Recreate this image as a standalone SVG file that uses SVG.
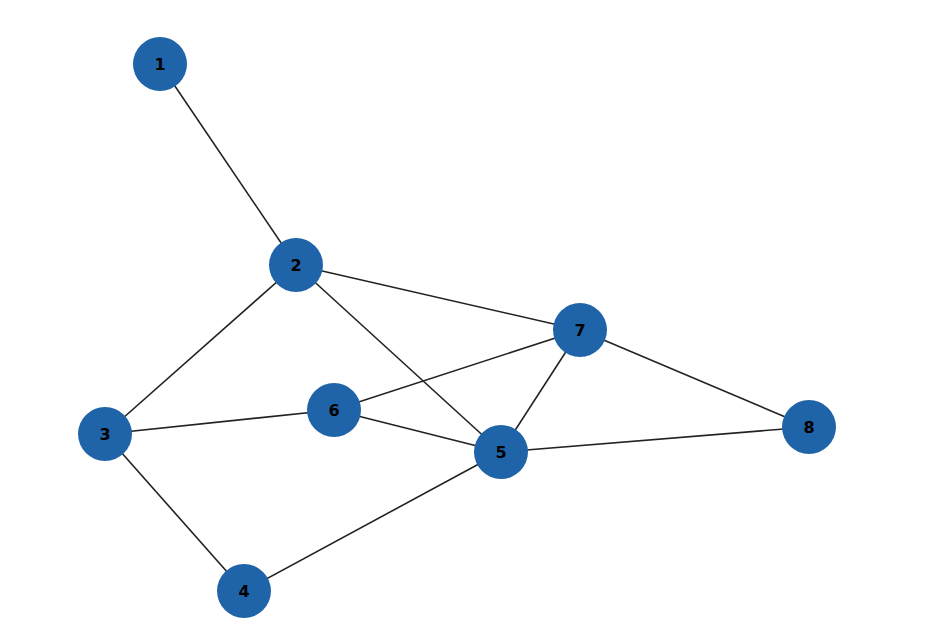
<svg xmlns="http://www.w3.org/2000/svg" width="936" height="644" viewBox="0 0 936 644">
<style>
.n{fill:#1f63a8}
.t{font-family:"DejaVu Sans",sans-serif;font-weight:bold;font-size:16px;fill:#000;text-anchor:middle;dominant-baseline:central}
#edges line{stroke:#222;stroke-width:1.6}
</style>
<rect width="936" height="644" fill="#fff"/>
<g id="edges">
<line x1="160" y1="64" x2="296" y2="265"/>
<line x1="296" y1="265" x2="580" y2="330"/>
<line x1="296" y1="265" x2="105" y2="434"/>
<line x1="296" y1="265" x2="501" y2="452"/>
<line x1="105" y1="434" x2="334" y2="410"/>
<line x1="105" y1="434" x2="244" y2="591"/>
<line x1="244" y1="591" x2="501" y2="452"/>
<line x1="334" y1="410" x2="580" y2="330"/>
<line x1="334" y1="410" x2="501" y2="452"/>
<line x1="580" y1="330" x2="501" y2="452"/>
<line x1="580" y1="330" x2="809" y2="427"/>
<line x1="501" y1="452" x2="809" y2="427"/>
</g>
<g id="node1"><circle class="n" cx="160" cy="64" r="27"/><text class="t" x="160" y="64">1</text></g>
<g id="node2"><circle class="n" cx="296" cy="265" r="27"/><text class="t" x="296" y="265">2</text></g>
<g id="node3"><circle class="n" cx="105" cy="434" r="27"/><text class="t" x="105" y="434">3</text></g>
<g id="node4"><circle class="n" cx="244" cy="591" r="27"/><text class="t" x="244" y="591">4</text></g>
<g id="node5"><circle class="n" cx="501" cy="452" r="27"/><text class="t" x="501" y="452">5</text></g>
<g id="node6"><circle class="n" cx="334" cy="410" r="27"/><text class="t" x="334" y="410">6</text></g>
<g id="node7"><circle class="n" cx="580" cy="330" r="27"/><text class="t" x="580" y="330">7</text></g>
<g id="node8"><circle class="n" cx="809" cy="427" r="27"/><text class="t" x="809" y="427">8</text></g>
</svg>
